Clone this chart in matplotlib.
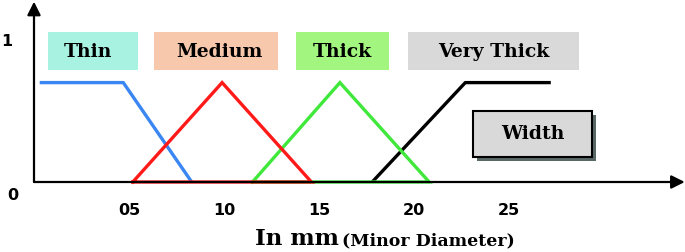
import matplotlib.pyplot as plt
from matplotlib.patches import Rectangle

# membership functions (x in mm, y = membership degree)
thin_x = [0.3, 4.7, 8.3]
thin_y = [0.7, 0.7, 0.0]
medium_x = [5.2, 9.9, 14.6, 5.2]
medium_y = [0.0, 0.7, 0.0, 0.0]
thick_x = [11.5, 16.1, 20.8, 11.5]
thick_y = [0.0, 0.7, 0.0, 0.0]
vthick_x = [17.8, 22.7, 27.2]
vthick_y = [0.0, 0.7, 0.7]

tick_pos = [5, 10, 15, 20, 25]
tick_lab = ["05", "10", "15", "20", "25"]
names = ["Thin", "Medium", "Thick", "Very Thick"]
box_colors = ["#a8f2e2", "#f8c8ac", "#a2f57e", "#d9d9d9"]
# box extents (mm) for the labels, and where the text sits
box_left = [0.74, 6.3, 13.8, 19.7]
box_right = [5.47, 12.84, 18.7, 28.7]
text_x = [2.82, 9.76, 16.23, 24.2]

fig = plt.figure(figsize=(6.85, 2.52), dpi=100)
ax = fig.add_axes([0, 0, 1, 1])
ax.set_xlim(-34 / 19, (685 - 34) / 19)
ax.set_ylim(-70 / 142, 182 / 142)
ax.axis("off")

# axes with arrows
ax.annotate("", xy=(34.25, 0), xytext=(0, 0),
            arrowprops=dict(arrowstyle="-|>", lw=1.6, color="black",
                            mutation_scale=20, shrinkA=0, shrinkB=0))
ax.annotate("", xy=(0, 1.27), xytext=(0, 0),
            arrowprops=dict(arrowstyle="-|>", lw=1.6, color="black",
                            mutation_scale=20, shrinkA=0, shrinkB=0))

lw = 2.4
ax.plot(vthick_x, vthick_y, color="black", lw=lw, solid_capstyle="butt")
ax.plot(thin_x, thin_y, color="#3a86f2", lw=lw, solid_capstyle="butt")
ax.plot(thick_x, thick_y, color="#3fe83a", lw=lw, solid_joinstyle="miter")
ax.plot(medium_x, medium_y, color="#ff1a1a", lw=lw, solid_joinstyle="miter")

serif = "DejaVu Serif"
for name, c, l, r, tx in zip(names, box_colors, box_left, box_right, text_x):
    ax.add_patch(Rectangle((l, 0.789), r - l, 0.267, facecolor=c, edgecolor="none"))
    ax.text(tx, 0.915, name, ha="center", va="center",
            family=serif, weight="bold", fontsize=13.5)

# "Width" box with shadow
ax.add_patch(Rectangle((23.3, 0.148), 6.26, 0.324, facecolor="#5a6868", edgecolor="none"))
ax.add_patch(Rectangle((23.1, 0.176), 6.26, 0.324, facecolor="#d9d9d9",
                       edgecolor="black", lw=1.5))
ax.text(26.23, 0.335, "Width", ha="center", va="center",
        family=serif, weight="bold", fontsize=13.5)

for p, t in zip(tick_pos, tick_lab):
    ax.text(p, -0.204, t, ha="center", va="center",
            family="DejaVu Sans", weight="bold", fontsize=11.5)
ax.text(-1.1, -0.092, "0", ha="center", va="center",
        family="DejaVu Sans", weight="bold", fontsize=11.5)
ax.text(-1.45, 0.99, "1", ha="center", va="center",
        family="DejaVu Sans", weight="bold", fontsize=11.5)

ax.text(16.05, -0.445, "In mm", ha="right", va="baseline",
        family=serif, weight="bold", fontsize=16.5)
ax.text(16.2, -0.445, "(Minor Diameter)", ha="left", va="baseline",
        family=serif, weight="bold", fontsize=12.5)

fig.savefig("out.png", dpi=100)
